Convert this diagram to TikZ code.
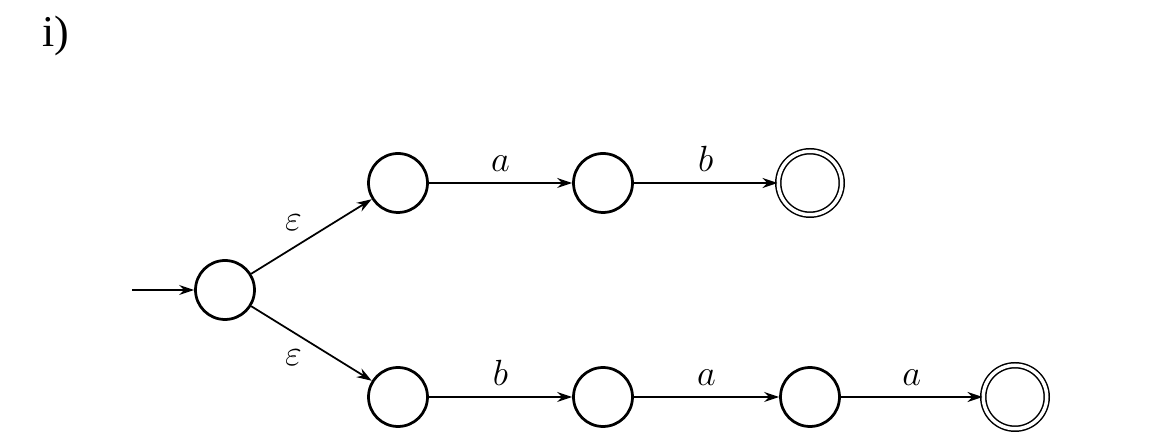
\documentclass[tikz,border=0pt]{standalone}
\usepackage{amsmath}
\usepackage{fontspec}
\usepackage{tikz}
\usetikzlibrary{arrows.meta}
\newfontfamily\timesfont{Liberation Serif}
\tikzstyle{state} = [draw=black, line width=0.055cm, circle, minimum size=1.18cm, inner sep=0pt]
\tikzstyle{accept} = [draw=black, line width=0.03cm, circle, double, double distance=0.07cm, minimum size=1.27cm, inner sep=0pt]
\tikzstyle{trans} = [line width=0.035cm, -{Stealth[length=0.3cm,width=0.2cm]}]
\tikzstyle{lbl} = [font=\fontsize{22}{26}\selectfont, inner sep=6pt]

\begin{document}
\begin{tikzpicture}[x=0.02cm, y=-0.02cm]
                \useasboundingbox (0,0) rectangle (1167,448);
                \node[font=\timesfont\fontsize{25}{30}\selectfont] (title) at (56,36) {i)};
                % states
                \node [state] (q0) at (225,290) {};
                \node [state] (q1) at (398,183) {};
                \node [state] (q2) at (603,183) {};
                \node [accept] (q3) at (810,183) {};
                \node [state] (q4) at (398,397) {};
                \node [state] (q5) at (603,397) {};
                \node [state] (q6) at (810,397) {};
                \node [accept] (q7) at (1015,397) {};
                \coordinate (start) at (132,290);
                % transitions
                \draw[trans] (start) -- (q0);
                \draw[trans] (q0) -- node[lbl, above left, inner sep=3pt, xshift=-2pt] {$\varepsilon$} (q1);
                \draw[trans] (q0) -- node[lbl, below left, inner sep=3pt, xshift=-2pt] {$\varepsilon$} (q4);
                \draw[trans] (q1) -- node[lbl, above] {$a$} (q2);
                \draw[trans] (q2) -- node[lbl, above] {$b$} (q3);
                \draw[trans] (q4) -- node[lbl, above] {$b$} (q5);
                \draw[trans] (q5) -- node[lbl, above] {$a$} (q6);
                \draw[trans] (q6) -- node[lbl, above] {$a$} (q7);
            \end{tikzpicture}
\end{document}
